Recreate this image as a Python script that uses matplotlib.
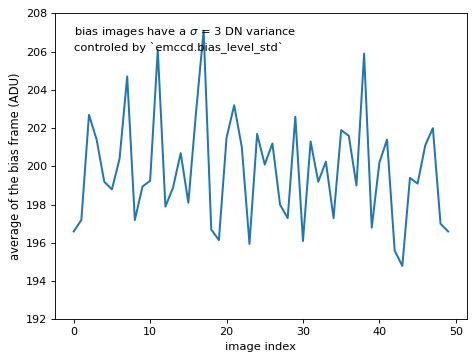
import matplotlib
matplotlib.use("Agg")
import matplotlib.pyplot as plt
import numpy as np

# mean bias level of each frame
bias_mean = [196.6, 197.2, 202.7, 201.4, 199.2, 198.8, 200.4, 204.7, 197.2, 198.95,
             199.25, 206.1, 197.9, 198.9, 200.7, 198.1, 202.8, 207.1, 196.7, 196.15,
             201.5, 203.2, 201.0, 195.95, 201.7, 200.1, 201.2, 198.0, 197.3, 202.6,
             196.1, 201.3, 199.2, 200.25, 197.3, 201.9, 201.6, 199.0, 205.9, 196.8,
             200.2, 201.4, 195.6, 194.8, 199.4, 199.1, 201.1, 202.0, 197.0, 196.6]
image_index = np.arange(len(bias_mean))

fig = plt.figure(figsize=(474 / 80, 363 / 80), dpi=80)
ax = fig.add_subplot(111)
fig.subplots_adjust(left=0.116, right=0.985, top=0.963, bottom=0.12)

ax.plot(image_index, bias_mean, linewidth=1.8)
ax.set_ylim(192, 208)
ax.set_xlabel('image index', fontsize=10.3)
ax.set_ylabel('average of the bias frame (ADU)', fontsize=10.4)
ax.text(0, 207.4, 'bias images have a $\\sigma$ = 3 DN variance\ncontroled by `emccd.bias_level_std`',
        va='top', ha='left', fontsize=10.3)

fig.savefig('out.png')
